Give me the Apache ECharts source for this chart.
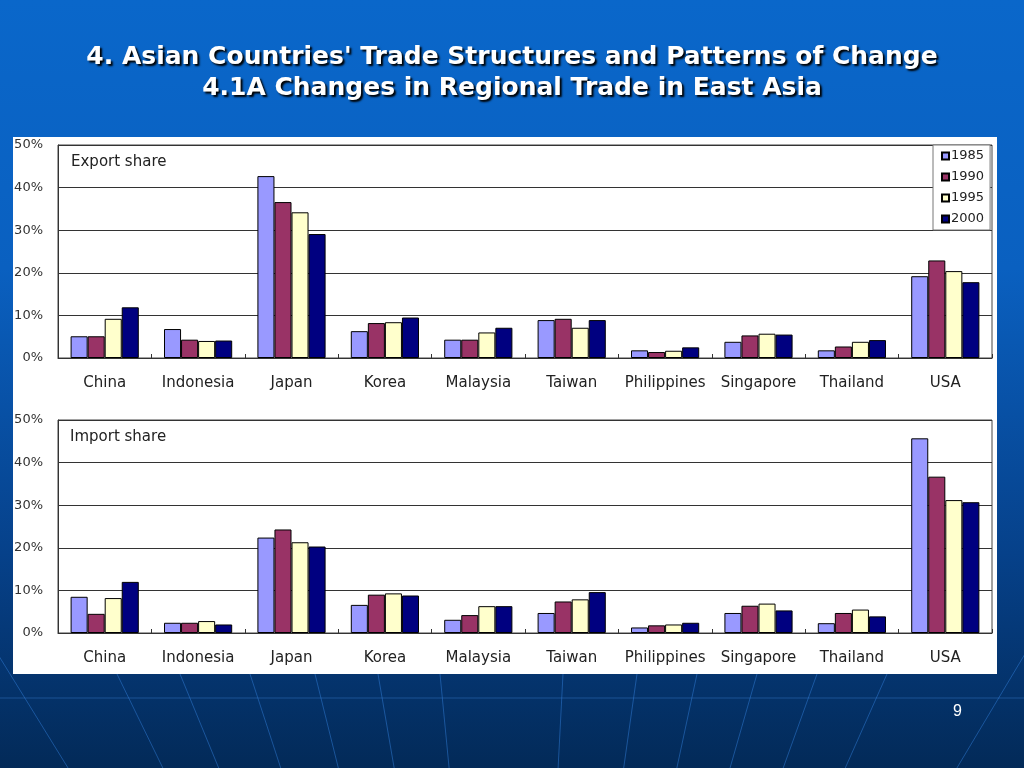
<!DOCTYPE html>
<html>
<head>
<meta charset="utf-8">
<script src="https://cdn.jsdelivr.net/npm/echarts@6/dist/echarts.min.js"></script>
<style>
  html, body { margin: 0; padding: 0; }
  #main { width: 1024px; height: 768px; }
</style>
</head>
<body>
<div id="main"></div>
<script>
// 国家 / 地区
const categories = ['China', 'Indonesia', 'Japan', 'Korea', 'Malaysia', 'Taiwan', 'Philippines', 'Singapore', 'Thailand', 'USA'];
const years = ['1985', '1990', '1995', '2000'];
const yearColors = ['#9999FF', '#993366', '#FFFFCC', '#000080'];

// 出口份额 (%)
const export1985 = [5.1, 6.8, 42.7, 6.3, 4.3, 8.9, 1.8, 3.8, 1.8, 19.2];
const export1990 = [5.1, 4.3, 36.6, 8.2, 4.3, 9.2, 1.4, 5.3, 2.7, 22.9];
const export1995 = [9.2, 4.0, 34.2, 8.4, 6.0, 7.1, 1.7, 5.7, 3.8, 20.4];
const export2000 = [11.9, 4.1, 29.1, 9.5, 7.1, 8.9, 2.5, 5.5, 4.2, 17.8];

// 进口份额 (%)
const import1985 = [8.5, 2.4, 22.4, 6.6, 3.1, 4.7, 1.3, 4.7, 2.3, 45.7];
const import1990 = [4.5, 2.4, 24.3, 9.0, 4.2, 7.4, 1.8, 6.4, 4.7, 36.7];
const import1995 = [8.2, 2.8, 21.3, 9.3, 6.3, 7.9, 2.0, 6.9, 5.5, 31.2];
const import2000 = [12.0, 2.0, 20.3, 8.8, 6.3, 9.6, 2.4, 5.3, 3.9, 30.7];

const exportData = [export1985, export1990, export1995, export2000];
const importData = [import1985, import1990, import1995, import2000];

const chart = echarts.init(document.getElementById('main'));

const labelFont = 'DejaVu Sans';

function makeXAxis(gridIndex) {
  return {
    type: 'category',
    gridIndex: gridIndex,
    data: categories,
    axisLine: { lineStyle: { color: '#333', width: 1 } },
    axisTick: { show: true, inside: true, length: 4, interval: 0, alignWithLabel: false, lineStyle: { color: '#333' } },
    axisLabel: { interval: 0, margin: 18, color: '#222', fontSize: 15, fontFamily: labelFont }
  };
}

function makeYAxis(gridIndex) {
  return {
    type: 'value',
    gridIndex: gridIndex,
    min: 0,
    max: 50,
    interval: 10,
    axisLine: { show: true, lineStyle: { color: '#333' } },
    axisTick: { show: false },
    splitLine: { lineStyle: { color: '#333', width: 1 } },
    axisLabel: { formatter: '{value}%', margin: 15, color: '#333', fontSize: 13, fontFamily: labelFont }
  };
}

function makeSeries(dataArr, idx) {
  return dataArr.map((arr, i) => ({
    name: years[i],
    type: 'bar',
    xAxisIndex: idx,
    yAxisIndex: idx,
    data: arr,
    barGap: '0%',
    barCategoryGap: '27%',
    itemStyle: { color: yearColors[i], borderColor: '#000', borderWidth: 1 }
  }));
}

// 背景装饰线 (指向下方的消失点)
const decoLines = [];
const vanish = [520, 1500];
[10, 117, 180, 250, 315, 378, 440, 563, 637, 697, 757, 817, 887, 1013].forEach(x0 => {
  const slope = (vanish[0] - x0) / (vanish[1] - 674);
  decoLines.push({
    type: 'line',
    z: -10,
    shape: { x1: x0 - slope * 60, y1: 614, x2: x0 + slope * (768 - 674), y2: 768 },
    style: { stroke: 'rgba(50,125,215,0.5)', lineWidth: 1 }
  });
});
decoLines.push({
  type: 'line',
  z: -10,
  shape: { x1: 0, y1: 698, x2: 1024, y2: 698 },
  style: { stroke: 'rgba(60,130,215,0.4)', lineWidth: 1 }
});

chart.setOption({
  backgroundColor: new echarts.graphic.LinearGradient(0, 0, 0, 1, [
    { offset: 0, color: '#0a67ca' },
    { offset: 0.35, color: '#0a60c0' },
    { offset: 0.72, color: '#06418a' },
    { offset: 1, color: '#032a58' }
  ]),
  title: {
    text: "4. Asian Countries' Trade Structures and Patterns of Change\n4.1A Changes in Regional Trade in East Asia",
    left: 'center',
    top: 42,
    padding: [0, 0, 0, 24],
    textStyle: {
      color: '#fff',
      fontSize: 25,
      fontWeight: 'bold',
      fontFamily: 'DejaVu Sans',
      lineHeight: 31,
      align: 'center',
      textShadowColor: '#000',
      textShadowOffsetX: 2,
      textShadowOffsetY: 2,
      textShadowBlur: 2
    }
  },
  graphic: [
    ...decoLines,
    {
      type: 'rect',
      z: -5,
      shape: { x: 13, y: 137, width: 984, height: 537 },
      style: { fill: '#fff' }
    },
    {
      type: 'text',
      left: 71,
      top: 155,
      style: { text: 'Export share', fill: '#222', font: '15px "DejaVu Sans"' }
    },
    {
      type: 'text',
      left: 70,
      top: 430,
      style: { text: 'Import share', fill: '#222', font: '15px "DejaVu Sans"' }
    },
    {
      type: 'text',
      left: 953,
      top: 704,
      style: { text: '9', fill: '#fff', font: '16px "Liberation Sans"' }
    }
  ],
  legend: {
    data: years,
    orient: 'vertical',
    left: 933,
    top: 145,
    width: 59,
    padding: [4, 6, 4, 8],
    itemWidth: 7,
    itemHeight: 7,
    itemGap: 7,
    icon: 'rect',
    backgroundColor: '#fff',
    borderColor: '#777',
    borderWidth: 1,
    borderRadius: 0,
    selectedMode: false,
    textStyle: { color: '#222', fontSize: 13, fontFamily: labelFont, lineHeight: 14, padding: [0, 0, 0, -3] }
  },
  grid: [
    { left: 58, top: 145, width: 934, height: 213, show: true, borderColor: '#444', borderWidth: 1, backgroundColor: '#fff' },
    { left: 58, top: 420, width: 934, height: 213, show: true, borderColor: '#444', borderWidth: 1, backgroundColor: '#fff' }
  ],
  xAxis: [makeXAxis(0), makeXAxis(1)],
  yAxis: [makeYAxis(0), makeYAxis(1)],
  series: [...makeSeries(exportData, 0), ...makeSeries(importData, 1)]
});
</script>
</body>
</html>
